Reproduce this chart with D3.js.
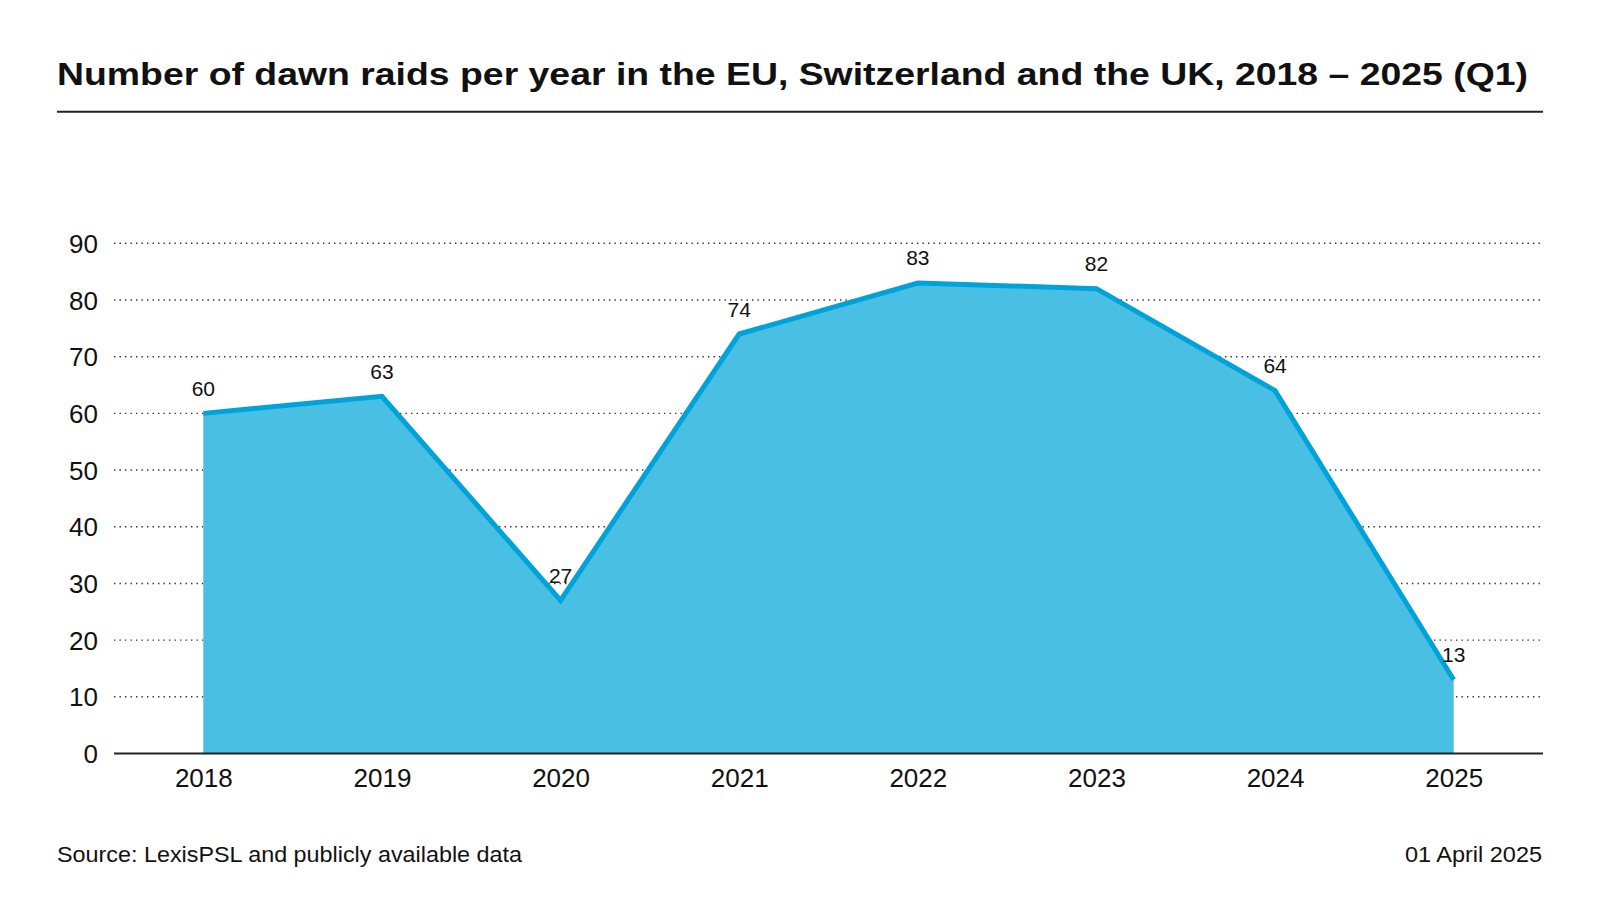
<!DOCTYPE html>
<html>
<head>
<meta charset="utf-8">
<script src="https://cdn.jsdelivr.net/npm/d3@7"></script>
<style>
  body { margin: 0; background: #fff; }
  svg text { font-family: "Liberation Sans", Arial, sans-serif; fill: #111; }
</style>
</head>
<body>
<svg id="chart" width="1600" height="919"></svg>
<script>
// data
const years = ['2018', '2019', '2020', '2021', '2022', '2023', '2024', '2025'];
const raids = [60, 63, 27, 74, 83, 82, 64, 13];
const yTicks = [0, 10, 20, 30, 40, 50, 60, 70, 80, 90];

const titleText = 'Number of dawn raids per year in the EU, Switzerland and the UK, 2018 \u2013 2025 (Q1)';
const sourceText = 'Source: LexisPSL and publicly available data';
const dateText = '01 April 2025';

const svg = d3.select('#chart');
const plotLeft = 114, plotRight = 1543, plotTop = 243.3, plotBottom = 753.5;

const x = d3.scalePoint().domain(years).range([plotLeft, plotRight]).padding(0.5);
const y = d3.scaleLinear().domain([0, 90]).range([plotBottom, plotTop]);

const points = years.map((yr, i) => ({ year: yr, value: raids[i] }));

// title + rule (the original face is wider, so stretch to its measured width)
svg.append('text')
    .attr('x', 57).attr('y', 85)
    .attr('font-size', 30.5).attr('font-weight', 'bold')
    .attr('textLength', 1471).attr('lengthAdjust', 'spacingAndGlyphs')
    .text(titleText);
svg.append('line')
    .attr('x1', 57).attr('x2', plotRight)
    .attr('y1', 111.7).attr('y2', 111.7)
    .attr('stroke', '#222').attr('stroke-width', 2);

// dotted gridlines
svg.append('g').selectAll('line')
    .data(yTicks.filter(t => t > 0))
    .join('line')
    .attr('x1', plotLeft).attr('x2', plotRight)
    .attr('y1', d => y(d)).attr('y2', d => y(d))
    .attr('stroke', '#333').attr('stroke-width', 1.4)
    .attr('stroke-dasharray', '1.4 4.1');

// y axis labels
const yAxis = d3.axisLeft(y).tickValues(yTicks).tickSize(0).tickPadding(0);
svg.append('g')
    .attr('transform', `translate(${plotLeft - 16},0)`)
    .call(yAxis)
    .call(g => g.select('.domain').remove())
    .selectAll('text')
    .attr('font-size', 26)
    .attr('fill', '#111')
    .attr('dy', '0.35em');

// area + line
const area = d3.area()
    .x(d => x(d.year))
    .y0(y(0))
    .y1(d => y(d.value));
const line = d3.line()
    .x(d => x(d.year))
    .y(d => y(d.value));

svg.append('path')
    .datum(points)
    .attr('d', area)
    .attr('fill', '#48bfe3');
svg.append('path')
    .datum(points)
    .attr('d', line)
    .attr('fill', 'none')
    .attr('stroke', '#00a3d9')
    .attr('stroke-width', 5)
    .attr('stroke-linejoin', 'miter');

// data labels
svg.append('g').selectAll('text')
    .data(points)
    .join('text')
    .attr('x', d => x(d.year))
    .attr('y', d => y(d.value) - 17.5)
    .attr('text-anchor', 'middle')
    .attr('font-size', 21)
    .text(d => d.value);

// x axis
const xAxis = d3.axisBottom(x).tickSize(0).tickPadding(15);
svg.append('g')
    .attr('transform', `translate(0,${plotBottom})`)
    .call(xAxis)
    .call(g => g.select('.domain')
        .attr('d', `M${plotLeft},0H${plotRight}`)
        .attr('stroke', '#222').attr('stroke-width', 2))
    .selectAll('text')
    .attr('font-size', 26)
    .attr('fill', '#111');

// footer
svg.append('text')
    .attr('x', 57).attr('y', 862)
    .attr('font-size', 21.5)
    .attr('textLength', 465).attr('lengthAdjust', 'spacingAndGlyphs')
    .text(sourceText);
svg.append('text')
    .attr('x', plotRight - 1).attr('y', 862)
    .attr('text-anchor', 'end')
    .attr('font-size', 21.5)
    .attr('textLength', 137).attr('lengthAdjust', 'spacingAndGlyphs')
    .text(dateText);
</script>
</body>
</html>
